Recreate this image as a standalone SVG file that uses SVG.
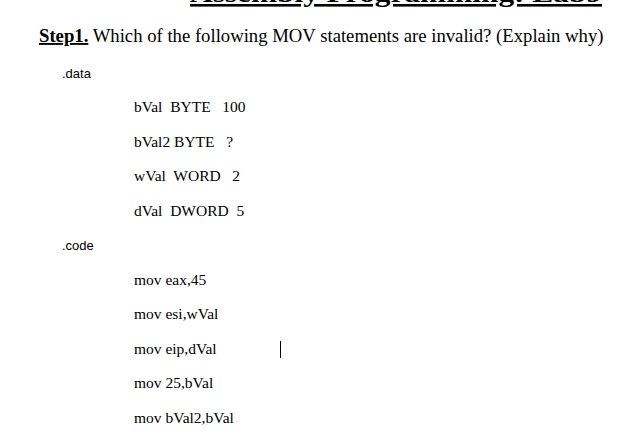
<svg xmlns="http://www.w3.org/2000/svg" width="637" height="440" viewBox="0 0 637 440">
<style>
.t{font-family:"Liberation Serif",serif;fill:#000}
.s{font-family:"Liberation Sans",sans-serif;fill:#000;font-size:13px}
.c{font-size:15.5px}
</style>
<rect width="637" height="440" fill="#fff"/>
<text class="t" x="190" y="2" font-size="26" font-weight="bold" text-decoration="underline" textLength="412" lengthAdjust="spacingAndGlyphs">Assembly Programming:  Lab9</text>
<text class="t" x="39" y="42" font-size="18.7"><tspan font-weight="bold" text-decoration="underline">Step1.</tspan> Which of the following MOV statements are invalid? (Explain why)</text>
<text class="s" x="62" y="78">.data</text>
<text class="t c" x="134" y="112" xml:space="preserve">bVal  BYTE   100</text>
<text class="t c" x="134" y="147" xml:space="preserve">bVal2 BYTE   ?</text>
<text class="t c" x="134" y="181" xml:space="preserve">wVal  WORD   2</text>
<text class="t c" x="134" y="216" xml:space="preserve">dVal  DWORD  5</text>
<text class="s" x="62" y="250">.code</text>
<text class="t c" x="134" y="285">mov eax,45</text>
<text class="t c" x="134" y="319">mov esi,wVal</text>
<text class="t c" x="134" y="354">mov eip,dVal</text>
<text class="t c" x="134" y="388">mov 25,bVal</text>
<text class="t c" x="134" y="423">mov bVal2,bVal</text>
<line x1="280.5" y1="341" x2="280.5" y2="358" stroke="#000" stroke-width="1"/>
</svg>
